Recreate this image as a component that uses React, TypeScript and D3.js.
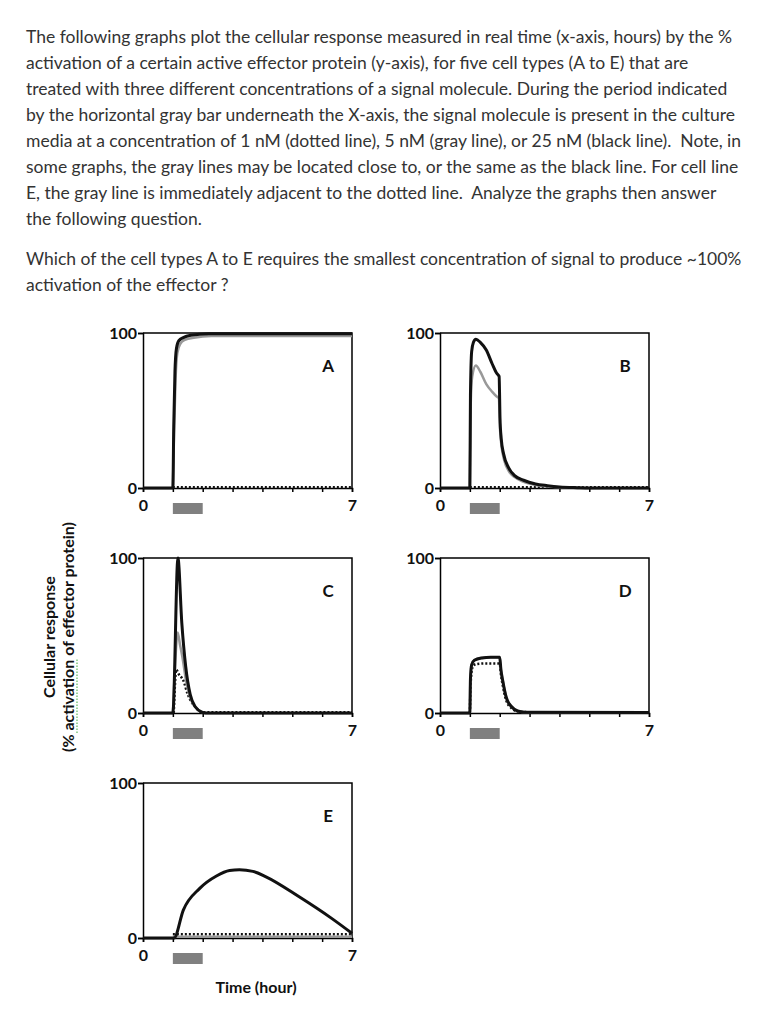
import React, { useRef, useEffect } from 'react'
import { select, scaleLinear, line, curveMonotoneX, axisLeft, axisBottom } from 'd3'

// question text lines
const questionLines = [
    'The following graphs plot the cellular response measured in real time (x-axis, hours) by the %',
    'activation of a certain active effector protein (y-axis), for five cell types (A to E) that are',
    'treated with three different concentrations of a signal molecule. During the period indicated',
    'by the horizontal gray bar underneath the X-axis, the signal molecule is present in the culture',
    'media at a concentration of 1 nM (dotted line), 5 nM (gray line), or 25 nM (black line).  Note, in',
    'some graphs, the gray lines may be located close to, or the same as the black line. For cell line',
    'E, the gray line is immediately adjacent to the dotted line.  Analyze the graphs then answer',
    'the following question.',
]
const askLines = [
    'Which of the cell types A to E requires the smallest concentration of signal to produce ~100%',
    'activation of the effector ?',
]

const timeDomain = [0, 7]
const responseDomain = [0, 100]
const xTicks = [0, 1, 2, 3, 4, 5, 6, 7]
const xTickLabels = [0, 7]
const yTicks = [0, 100]
const signalPeriod = [1, 2]

// [hour, % activation]
const blackA = [[0, 0], [1, 0], [1.03, 40], [1.07, 75], [1.12, 90], [1.2, 95], [1.35, 97], [1.6, 98.5], [2.2, 99.5], [7, 99.5]]
const grayA = [[1, 0], [1.04, 35], [1.09, 70], [1.15, 87], [1.25, 93], [1.4, 95.5], [1.7, 97], [2.3, 98], [7, 98]]
const dottedA = [[1, 0.5], [7, 0.5]]

const blackB = [[0, 0], [1, 0], [1.02, 60], [1.06, 88], [1.12, 94], [1.2, 96], [1.35, 94], [1.55, 89], [1.75, 80], [1.9, 74], [1.98, 72], [2.01, 45], [2.05, 32], [2.13, 22], [2.3, 13], [2.5, 8], [2.8, 5], [3.2, 2.6], [3.6, 1.5], [4, 0.7], [4.6, 0.2], [5, 0], [7, 0]]
const grayB = [[1, 0], [1.03, 55], [1.08, 72], [1.2, 79], [1.35, 75], [1.55, 67], [1.75, 62], [1.9, 59], [1.97, 58], [2.01, 38], [2.06, 27], [2.15, 18], [2.3, 11], [2.5, 7], [2.8, 4], [3.2, 2], [4, 0.5], [5, 0]]
const dottedB = [[1, 0.5], [7, 0.5]]

const blackC = [[0, 0], [1, 0], [1.17, 100], [1.3, 58], [1.43, 30], [1.58, 12], [1.75, 4], [1.97, 0.6], [2.1, 0], [7, 0]]
const grayC = [[1, 0], [1.06, 25], [1.16, 52], [1.24, 44], [1.32, 36], [1.45, 20], [1.62, 8], [1.85, 2], [2.05, 0]]
const dottedC = [[1.03, 0], [1.07, 18], [1.11, 28], [1.2, 25], [1.35, 21], [1.5, 12], [1.75, 4], [1.97, 0.6], [2.15, 0.5], [7, 0.5]]

const blackD = [[0, 0], [1, 0], [1.02, 22], [1.06, 31], [1.15, 34], [1.4, 35.5], [1.7, 36], [2.0, 36], [2.04, 28], [2.1, 21], [2.22, 10], [2.4, 4], [2.6, 1.3], [2.9, 0.5], [7, 0.3]]
const grayD = [[1, 0], [1.02, 22], [1.06, 31], [1.15, 34], [1.4, 35.5], [1.7, 36], [2.0, 36], [2.04, 28], [2.1, 21], [2.22, 10], [2.4, 4], [2.6, 1.3], [2.9, 0.5], [7, 0.3]]
const dottedD = [[1, 0], [1.03, 20], [1.08, 29], [1.2, 31.5], [1.5, 32], [2.0, 32], [2.04, 25], [2.1, 18], [2.22, 8], [2.4, 3], [2.6, 1], [3, 0.5], [7, 0.5]]

const blackE = [[0, 0], [1.04, 0], [1.35, 18], [1.9, 32], [2.46, 40], [2.9, 43.5], [3.23, 44], [3.68, 43], [4.12, 39.5], [5.23, 26.6], [6.33, 12.5], [7, 3]]
const grayE = [[1, 0.8], [7, 0.8]]
const dottedE = [[1, 2.5], [7, 2.5]]

const panels = [
    { name: 'A', left: 143, top: 333, black: blackA, gray: grayA, dotted: dottedA },
    { name: 'B', left: 440, top: 333, black: blackB, gray: grayB, dotted: dottedB },
    { name: 'C', left: 143, top: 558, black: blackC, gray: grayC, dotted: dottedC },
    { name: 'D', left: 440, top: 558, black: blackD, gray: grayD, dotted: dottedD },
    { name: 'E', left: 143, top: 783, black: blackE, gray: grayE, dotted: dottedE },
]

const W = 209
const H = 155
const labelFont = 'Lato, "Open Sans", sans-serif'

const Panel = ({ p }) => {
    const ref = useRef<any>()

    useEffect(() => {
        const g = select(ref.current)
        g.selectAll('*').remove()

        const x = scaleLinear().domain(timeDomain).range([0, W])
        const y = scaleLinear().domain(responseDomain).range([H, 0])
        const path = line().x(d => x(d[0])).y(d => y(d[1])).curve(curveMonotoneX)

        // frame top / right
        g.append('path')
            .attr('d', `M0,${y(100)}H${x(7)}V${y(0)}`)
            .attr('fill', 'none')
            .attr('stroke', '#000')
            .attr('stroke-width', 1.5)

        const ya = g.append('g').call(axisLeft(y).tickValues(yTicks).tickSize(5).tickPadding(1))
        const xa = g.append('g').attr('transform', `translate(0,${H})`)
            .call(axisBottom(x).tickValues(xTicks).tickSize(4).tickPadding(8)
                .tickFormat(d => xTickLabels.includes(d) ? String(d) : ''))
        ;[ya, xa].forEach(a => {
            a.select('.domain').attr('stroke-width', 1.5)
            a.selectAll('.tick line').attr('stroke-width', 1.5)
            a.selectAll('text')
                .attr('font-family', labelFont)
                .attr('font-weight', 'bold')
                .attr('font-size', 16)
                .attr('fill', '#111')
        })

        // signal period bar
        g.append('rect')
            .attr('x', x(signalPeriod[0]))
            .attr('width', x(signalPeriod[1]) - x(signalPeriod[0]))
            .attr('y', H + 15)
            .attr('height', 11)
            .attr('fill', '#808080')

        g.append('path').datum(p.dotted).attr('d', path)
            .attr('fill', 'none').attr('stroke', '#111')
            .attr('stroke-width', 2.5).attr('stroke-dasharray', '2 2')
        g.append('path').datum(p.gray).attr('d', path)
            .attr('fill', 'none').attr('stroke', '#999').attr('stroke-width', 2.5)
        g.append('path').datum(p.black).attr('d', path)
            .attr('fill', 'none').attr('stroke', '#111').attr('stroke-width', 3)
            .attr('stroke-linejoin', 'round')

        g.append('text')
            .attr('x', x(6.2))
            .attr('y', y(75))
            .attr('text-anchor', 'middle')
            .attr('font-family', labelFont)
            .attr('font-weight', 'bold')
            .attr('font-size', 17)
            .attr('fill', '#111')
            .text(p.name)
    }, [p])

    return <g ref={ref} transform={`translate(${p.left},${p.top})`} />
}

const App = () => {
    return (
        <svg width={770} height={1024} style={{ position: 'absolute', left: 0, top: 0, background: '#fff' }}>
            <g fontFamily={labelFont} fontSize={17.5} fill="#333">
                {questionLines.map((t, i) => (
                    <text key={i} x={26} y={43 + i * 26} style={{ whiteSpace: 'pre' }}>{t}</text>
                ))}
                {askLines.map((t, i) => (
                    <text key={i} x={26} y={265 + i * 26}>{t}</text>
                ))}
            </g>
            {panels.map(p => <Panel key={p.name} p={p} />)}
            <g fontFamily={labelFont} fontWeight="bold" fontSize={16} fill="#111" textAnchor="middle">
                <text transform="translate(55,637) rotate(-90)">Cellular response</text>
                <text transform="translate(74,637) rotate(-90)">(% activation of effector protein)</text>
                <text x={256} y={993}>Time (hour)</text>
            </g>
            <line x1={77} x2={77} y1={733} y2={659} stroke="#5cb85c" strokeWidth={1.2} strokeDasharray="1.5 1.5" />
        </svg>
    )
}

export default App
